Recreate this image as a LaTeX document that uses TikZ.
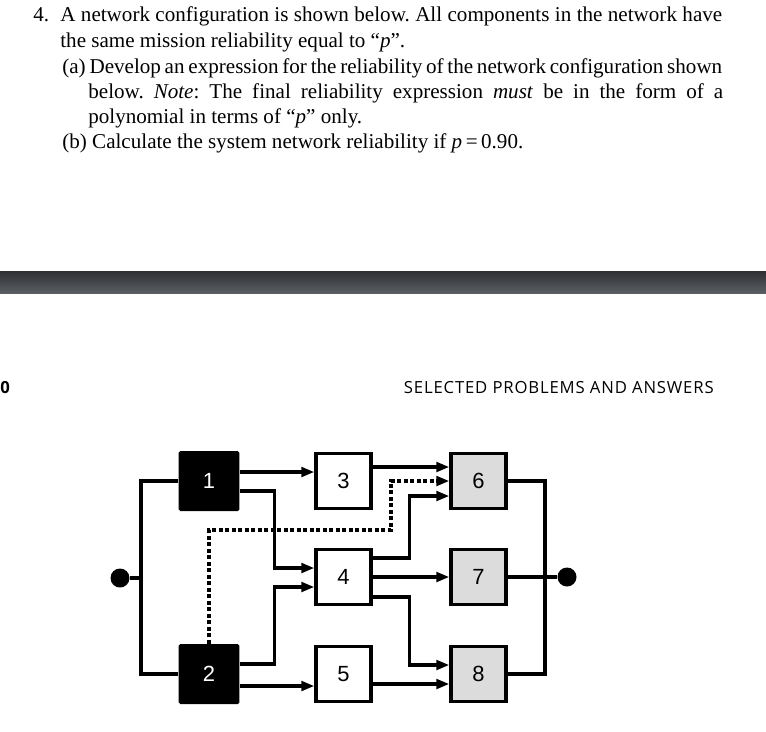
\documentclass[tikz,border=0pt]{standalone}
\usepackage{fontspec}
\setmainfont{Liberation Serif}
\newfontfamily\boxfont{Liberation Sans}
\newfontfamily\headfont{Open Sans}
\newfontfamily\runfont{Open Sans}[LetterSpace=5]
\usetikzlibrary{arrows.meta}

\definecolor{boxgray}{HTML}{DCDCDC}
\definecolor{bartop}{HTML}{2E3033}
\definecolor{barbot}{HTML}{5A5E62}

\begin{document}
\frenchspacing
\begin{tikzpicture}[x=0.02cm,y=-0.02cm,
  txt/.style={anchor=base west,inner sep=0pt,font=\fontsize{12}{14}\selectfont},
  blk/.style={
    fill=black,
    rounded corners=1pt,
    minimum width=1.22cm,
    minimum height=1.2cm,
    inner sep=0pt,
    text=white,
    font=\boxfont\fontsize{12.5}{12}\selectfont
  },
  wbox/.style={
    draw,
    line width=0.065cm,
    fill=white,
    minimum size=1.1cm,
    inner sep=0pt,
    font=\boxfont\fontsize{12.5}{12}\selectfont
  },
  gbox/.style={wbox,fill=boxgray},
  term/.style={circle,fill=black,minimum size=0.38cm,inner sep=0pt},
  ln/.style={line width=0.065cm},
  arr/.style={ln,-{Triangle[length=0.26cm,width=0.19cm]}},
  dsh/.style={arr,dash pattern=on 0.08cm off 0.05cm}
]
  \useasboundingbox (0,0) rectangle (766,731);
  \fill[white] (0,0) rectangle (766,731);

  % question text
  \node[txt] (num) at (33,21) {4.};
  \node[txt] (ln1) at (60,21) {\spaceskip=2.6pt plus 3pt minus 1pt
    \makebox[13.24cm][s]{A network configuration is shown below. All components in the network have}};
  \node[txt] (ln2) at (60,47) {the same mission reliability equal to ``\textit{p}''.};
  \node[txt] (ln3) at (62,73) {\spaceskip=1.5pt plus 3pt
    \makebox[13.2cm][s]{(a) Develop an expression for the reliability of the network configuration shown}};
  \node[txt] (ln4) at (88,98) {\makebox[12.7cm][s]{below. \textit{Note}: The final reliability expression \textit{must} be in the form of a}};
  \node[txt] (ln5) at (88,123) {polynomial in terms of ``\textit{p}'' only.};
  \node[txt] (ln6) at (62,148) {(b) Calculate the system network reliability if \textit{p}\,=\,0.90.};

  % page band and running head
  \shade[top color=bartop,bottom color=barbot] (0,271) rectangle (766,293);
  \node[anchor=base west,inner sep=0pt,font=\headfont\bfseries\fontsize{9.5}{9}\selectfont] (pg) at (0,393) {0};
  \node[anchor=base east,inner sep=0pt,font=\runfont\fontsize{9.5}{9}\selectfont] (rh) at (714,393) {SELECTED PROBLEMS AND ANSWERS};

  % network
  \node[term] (in) at (120,578) {};
  \node[term] (out) at (567,577) {};

  \node[blk] (n1) at (209,481) {1};
  \node[blk] (n2) at (209,674) {2};
  \node[wbox] (n3) at (343.5,481) {3};
  \node[wbox] (n4) at (343.5,577) {4};
  \node[wbox] (n5) at (343.5,674) {5};
  \node[gbox] (n6) at (478.5,481) {6};
  \node[gbox] (n7) at (478.5,577) {7};
  \node[gbox] (n8) at (478.5,674) {8};

  \coordinate (jl) at (141,578);
  \coordinate (jr) at (545,577);
  \coordinate (dk) at (391,530);

  \draw[ln] (in) -- (jl);
  \draw[ln] (n1.west) -| (jl) |- (n2.west);
  \draw[arr] ([yshift=0.18cm]n1.east) -- ([yshift=0.18cm]n3.west);
  \draw[arr] ([yshift=-0.2cm]n1.east) -| ([xshift=-0.8cm,yshift=0.18cm]n4.west) -- ([yshift=0.18cm]n4.west);
  \draw[arr] ([yshift=0.2cm]n2.east) -| ([xshift=-0.8cm,yshift=-0.2cm]n4.west) -- ([yshift=-0.2cm]n4.west);
  \draw[arr] ([yshift=-0.24cm]n2.east) -- ([yshift=-0.24cm]n5.west);
  \draw[arr] ([yshift=0.28cm]n3.east) -- ([yshift=0.28cm]n6.west);
  \draw[arr] ([yshift=0.38cm]n4.east) -| ([xshift=-0.8cm,yshift=-0.3cm]n6.west) -- ([yshift=-0.3cm]n6.west);
  \draw[arr] (n4.east) -- (n7.west);
  \draw[arr] ([yshift=-0.4cm]n4.east) -| ([xshift=-0.8cm,yshift=0.18cm]n8.west) -- ([yshift=0.18cm]n8.west);
  \draw[arr] ([yshift=-0.2cm]n5.east) -- ([yshift=-0.2cm]n8.west);
  \draw[ln] (n6.east) -| (jr) |- (n8.east);
  \draw[ln] (n7.east) -- (out);
  \draw[dsh] (n2.north) |- (dk) |- (n6.west);
\end{tikzpicture}
\end{document}
